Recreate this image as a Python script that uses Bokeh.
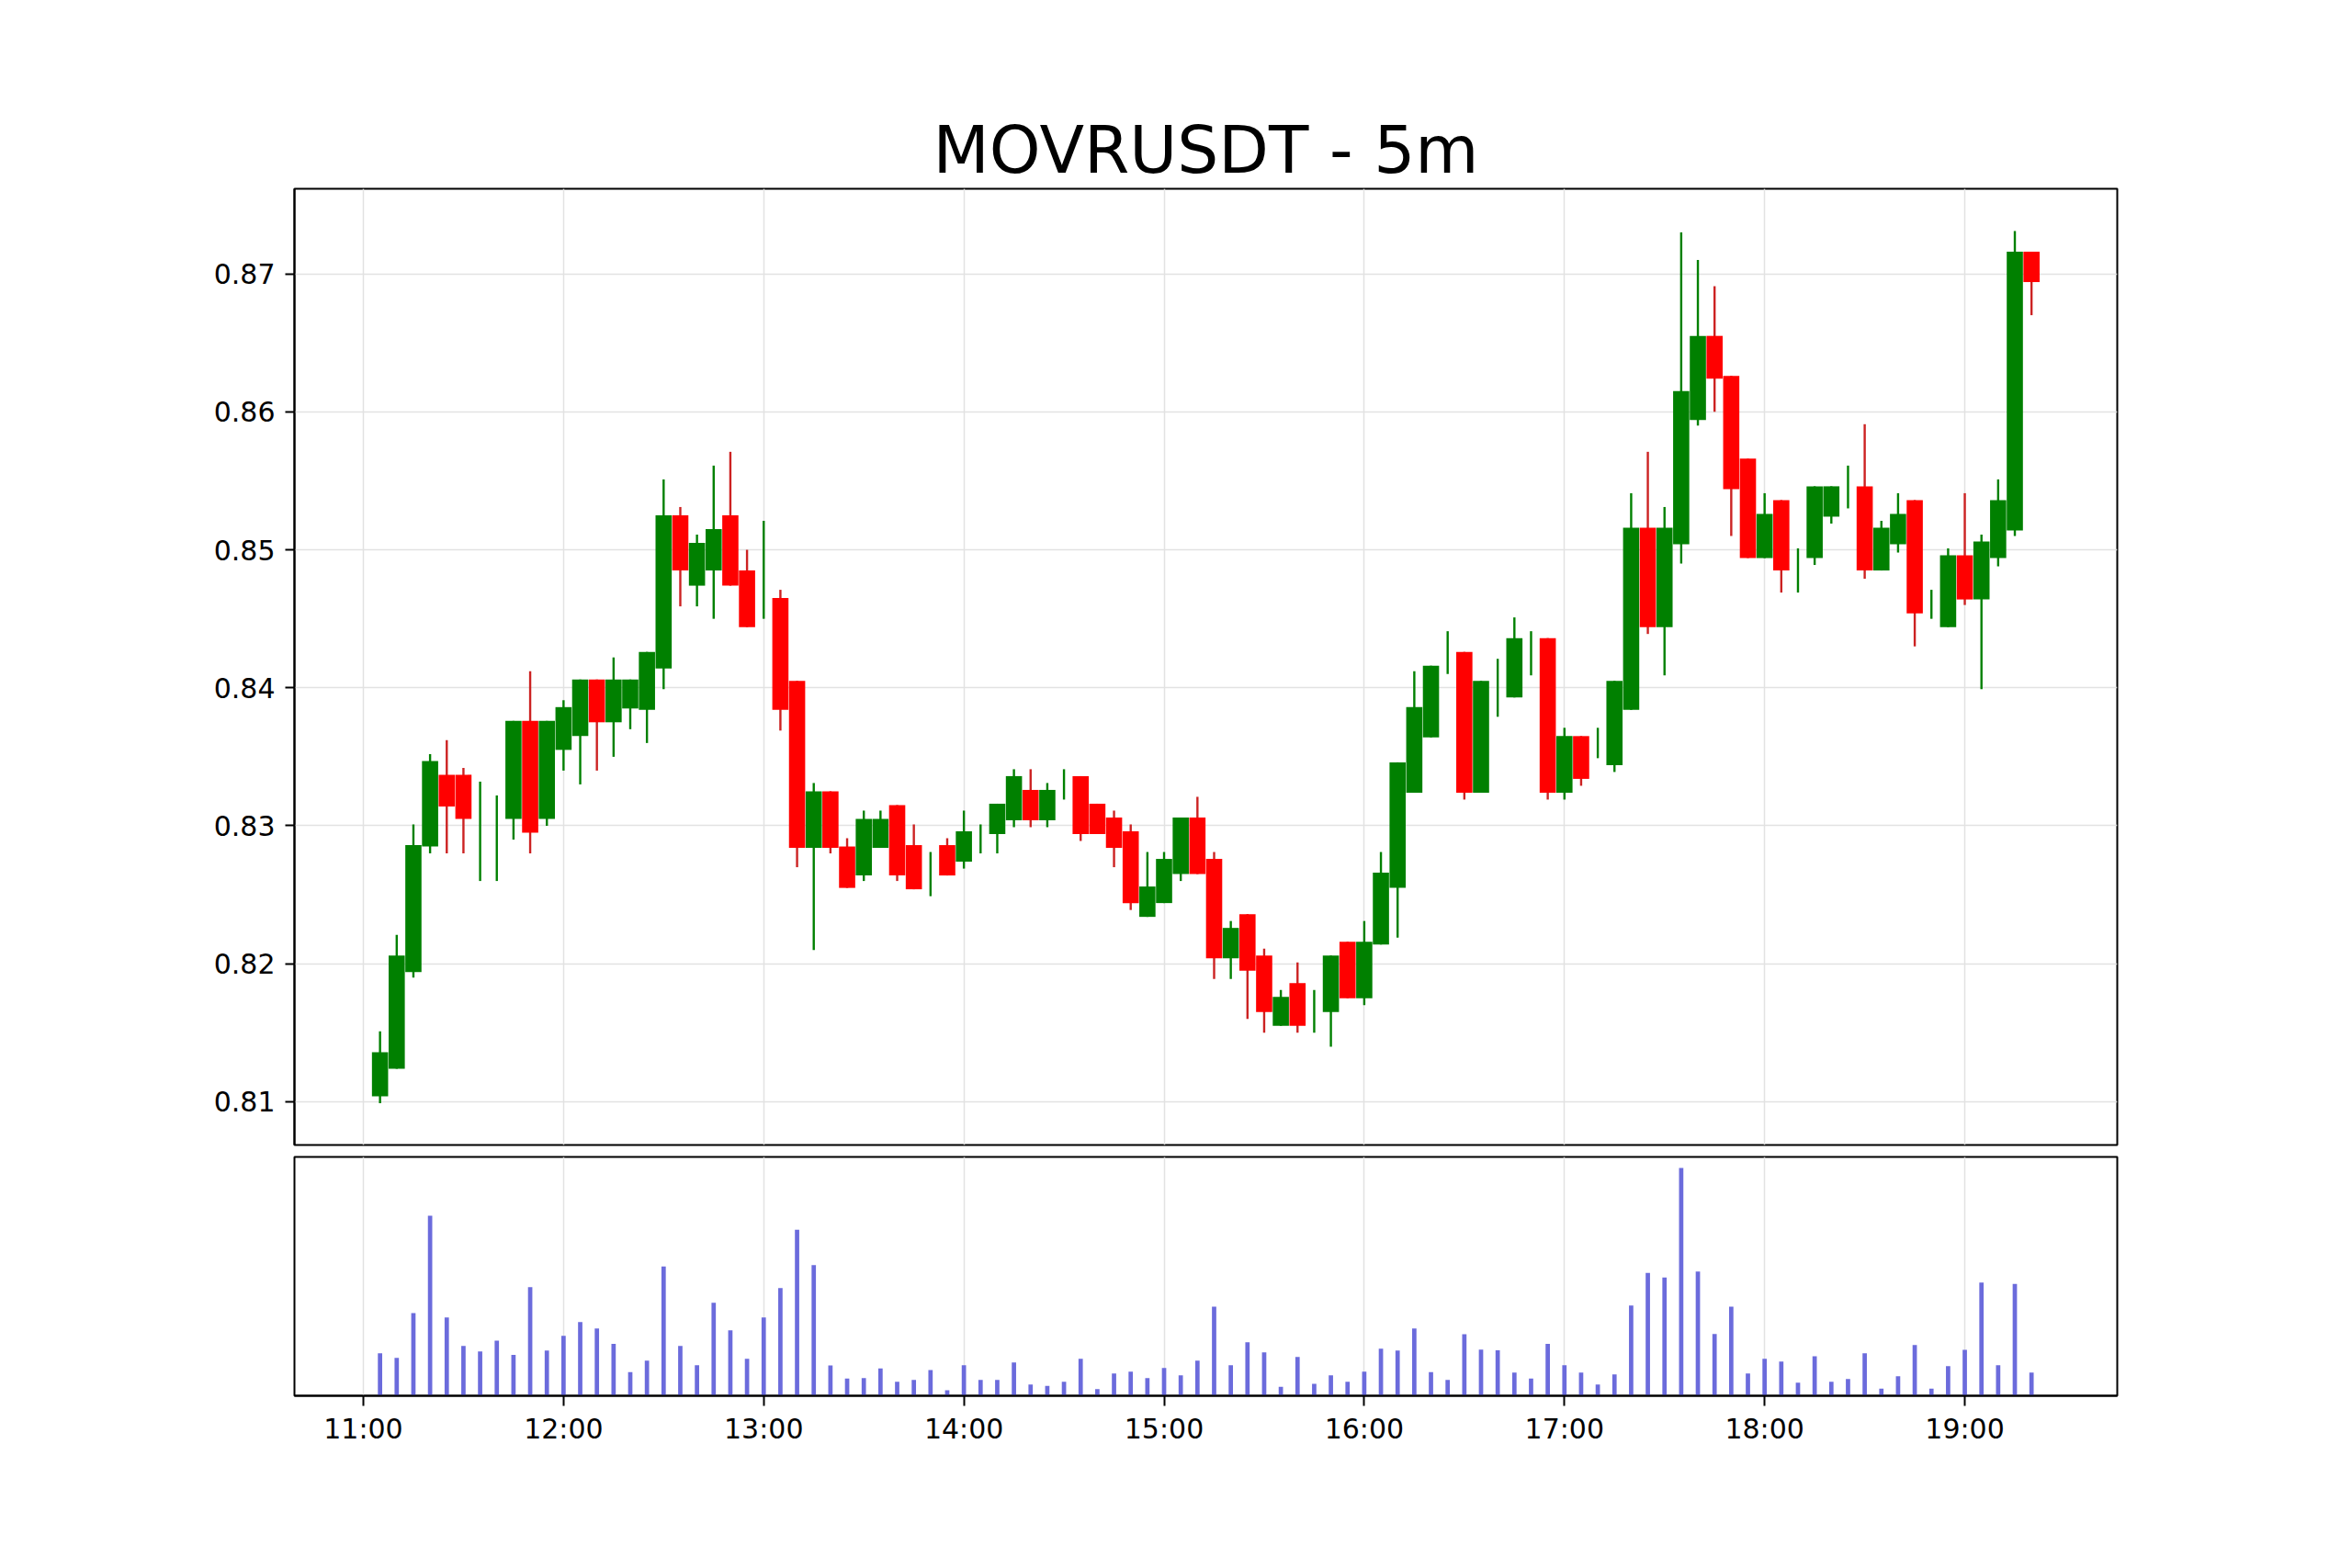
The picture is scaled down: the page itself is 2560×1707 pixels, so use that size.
import pandas as pd
from bokeh.plotting import figure
from bokeh.layouts import column
from bokeh.models import (ColumnDataSource, Range1d, FixedTicker, Grid,
                          PrintfTickFormatter, DatetimeTickFormatter)
from bokeh.embed import file_html
from bokeh.resources import INLINE

# ---------------- data ----------------
title_text = "MOVRUSDT - 5m"
session_date = "2022-01-01"
first_bar = "11:05"
bar_minutes = 5
hour_labels = ["11:00", "12:00", "13:00", "14:00", "15:00", "16:00", "17:00", "18:00", "19:00"]
price_ticks = [0.81, 0.82, 0.83, 0.84, 0.85, 0.86, 0.87]

opens = [0.8104, 0.8124, 0.8194, 0.8285, 0.8337, 0.8337, 0.8305, 0.8305, 0.8305, 0.8376,
         0.8305, 0.8355, 0.8365, 0.8406, 0.8375, 0.8385, 0.8384, 0.8414, 0.8525, 0.8474,
         0.8485, 0.8525, 0.8485, 0.8485, 0.8465, 0.8405, 0.8284, 0.8325, 0.8285, 0.8264,
         0.8284, 0.8315, 0.8286, 0.8264, 0.8286, 0.8274, 0.8296, 0.8294, 0.8304, 0.8326,
         0.8304, 0.8326, 0.8336, 0.8316, 0.8306, 0.8296, 0.8234, 0.8244, 0.8265, 0.8306,
         0.8276, 0.8204, 0.8236, 0.8206, 0.8155, 0.8186, 0.8165, 0.8165, 0.8216, 0.8175,
         0.8214, 0.8255, 0.8324, 0.8364, 0.8426, 0.8426, 0.8324, 0.8405, 0.8393, 0.8436,
         0.8436, 0.8324, 0.8365, 0.8355, 0.8344, 0.8384, 0.8516, 0.8444, 0.8504, 0.8594,
         0.8655, 0.8626, 0.8566, 0.8494, 0.8536, 0.8494, 0.8494, 0.8524, 0.8546, 0.8546,
         0.8485, 0.8504, 0.8536, 0.8454, 0.8444, 0.8496, 0.8464, 0.8494, 0.8514, 0.8716]
highs = [0.8151, 0.8221, 0.8301, 0.8352, 0.8362, 0.8342, 0.8332, 0.8322, 0.8376, 0.8412,
         0.8376, 0.8391, 0.8406, 0.8406, 0.8422, 0.8406, 0.8426, 0.8551, 0.8531, 0.8511,
         0.8561, 0.8571, 0.8500, 0.8521, 0.8471, 0.8405, 0.8331, 0.8325, 0.8291, 0.8311,
         0.8311, 0.8315, 0.8301, 0.8281, 0.8291, 0.8311, 0.8301, 0.8316, 0.8341, 0.8341,
         0.8331, 0.8341, 0.8336, 0.8316, 0.8311, 0.8301, 0.8281, 0.8281, 0.8306, 0.8321,
         0.8281, 0.8231, 0.8236, 0.8211, 0.8181, 0.8201, 0.8181, 0.8206, 0.8216, 0.8231,
         0.8281, 0.8346, 0.8412, 0.8416, 0.8441, 0.8426, 0.8405, 0.8421, 0.8451, 0.8441,
         0.8436, 0.8371, 0.8365, 0.8371, 0.8405, 0.8541, 0.8571, 0.8531, 0.8730, 0.8710,
         0.8691, 0.8626, 0.8566, 0.8541, 0.8536, 0.8501, 0.8546, 0.8546, 0.8561, 0.8591,
         0.8521, 0.8541, 0.8536, 0.8471, 0.8501, 0.8541, 0.8511, 0.8551, 0.8731, 0.8716]
lows = [0.8099, 0.8124, 0.8190, 0.8280, 0.8280, 0.8280, 0.8260, 0.8260, 0.8290, 0.8280,
        0.8300, 0.8340, 0.8330, 0.8340, 0.8350, 0.8370, 0.8360, 0.8399, 0.8459, 0.8459,
        0.8450, 0.8474, 0.8444, 0.8450, 0.8369, 0.8270, 0.8210, 0.8280, 0.8255, 0.8260,
        0.8284, 0.8260, 0.8254, 0.8249, 0.8264, 0.8269, 0.8280, 0.8280, 0.8299, 0.8299,
        0.8299, 0.8319, 0.8289, 0.8294, 0.8270, 0.8239, 0.8234, 0.8244, 0.8260, 0.8265,
        0.8189, 0.8189, 0.8160, 0.8150, 0.8155, 0.8150, 0.8150, 0.8140, 0.8175, 0.8170,
        0.8214, 0.8219, 0.8324, 0.8364, 0.8410, 0.8319, 0.8324, 0.8379, 0.8393, 0.8409,
        0.8319, 0.8319, 0.8329, 0.8349, 0.8339, 0.8384, 0.8439, 0.8409, 0.8490, 0.8590,
        0.8600, 0.8510, 0.8494, 0.8494, 0.8469, 0.8469, 0.8489, 0.8519, 0.8530, 0.8479,
        0.8485, 0.8498, 0.8430, 0.8450, 0.8444, 0.8460, 0.8399, 0.8488, 0.8510, 0.8670]
closes = [0.8136, 0.8206, 0.8286, 0.8347, 0.8314, 0.8305, 0.8305, 0.8305, 0.8376, 0.8295,
          0.8376, 0.8386, 0.8406, 0.8375, 0.8406, 0.8406, 0.8426, 0.8525, 0.8485, 0.8505,
          0.8515, 0.8474, 0.8444, 0.8485, 0.8384, 0.8284, 0.8325, 0.8284, 0.8255, 0.8305,
          0.8305, 0.8264, 0.8254, 0.8264, 0.8264, 0.8296, 0.8296, 0.8316, 0.8336, 0.8304,
          0.8326, 0.8326, 0.8294, 0.8294, 0.8284, 0.8244, 0.8256, 0.8276, 0.8306, 0.8265,
          0.8204, 0.8226, 0.8195, 0.8165, 0.8176, 0.8155, 0.8165, 0.8206, 0.8175, 0.8216,
          0.8266, 0.8346, 0.8386, 0.8416, 0.8426, 0.8324, 0.8405, 0.8405, 0.8436, 0.8436,
          0.8324, 0.8365, 0.8334, 0.8355, 0.8405, 0.8516, 0.8444, 0.8516, 0.8615, 0.8655,
          0.8624, 0.8544, 0.8494, 0.8526, 0.8485, 0.8494, 0.8546, 0.8546, 0.8546, 0.8485,
          0.8516, 0.8526, 0.8454, 0.8454, 0.8496, 0.8464, 0.8506, 0.8536, 0.8716, 0.8694]
volumes = [139, 124, 270, 589, 256, 163, 145, 180, 134, 355,
           148, 196, 241, 220, 170, 77, 115, 423, 163, 100,
           304, 214, 121, 256, 352, 543, 427, 99, 56, 58,
           89, 46, 52, 84, 18, 100, 52, 52, 109, 37,
           32, 46, 121, 22, 73, 79, 58, 91, 67, 115,
           291, 100, 175, 142, 29, 127, 39, 67, 46, 79,
           154, 148, 220, 77, 52, 201, 151, 149, 76, 56,
           170, 100, 76, 37, 70, 295, 402, 387, 745, 406,
           202, 291, 73, 121, 112, 43, 129, 46, 55, 139,
           23, 64, 166, 23, 97, 150, 370, 100, 366, 76]

# ---------------- styling ----------------
UP, DOWN = "#008000", "#ff0000"
UP_WICK, DOWN_WICK = "#008000", "#cc2222"
VOL_COLOR = "#6b6bdc"
GRID_COLOR = "#e2e2e2"
FONT = "DejaVu Sans"

times = pd.date_range(f"{session_date} {first_bar}", periods=len(opens), freq=f"{bar_minutes}min")
up = [c >= o for o, c in zip(opens, closes)]
src = ColumnDataSource(dict(
    time=times, open=opens, high=highs, low=lows, close=closes, volume=volumes,
    top=[max(o, c) for o, c in zip(opens, closes)],
    bottom=[min(o, c) for o, c in zip(opens, closes)],
    color=[UP if u else DOWN for u in up],
    wick=[UP_WICK if u else DOWN_WICK for u in up],
))

MIN = 60 * 1000
base = pd.Timestamp(f"{session_date} {hour_labels[0]}")
base_ms = base.value // 10**6
hour_ticks = [pd.Timestamp(f"{session_date} {h}").value // 10**6 for h in hour_labels]
x_range = Range1d(base_ms - 20.65 * MIN, base_ms + 525.7 * MIN)

FRAME_W = 1984
LEFT, RIGHT = 320, 240

# ---------------- price panel ----------------
p1 = figure(x_range=x_range, y_range=Range1d(0.80687, 0.87616),
            x_axis_location=None, frame_width=FRAME_W, frame_height=1041,
            min_border_left=LEFT, min_border_right=RIGHT,
            min_border_top=205, min_border_bottom=6,
            output_backend="svg", toolbar_location=None, title=title_text)
p1.background_fill_color = "white"
p1.border_fill_color = "white"
p1.outline_line_color = "black"
p1.outline_line_width = 2
p1.outline_line_alpha = 1.0

p1.title.text_font = FONT
p1.title.text_font_size = "71px"
p1.title.text_font_style = "normal"
p1.title.text_color = "black"
p1.title.align = "center"
p1.title.standoff = 2

p1.yaxis.ticker = FixedTicker(ticks=price_ticks)
p1.yaxis.formatter = PrintfTickFormatter(format="%.2f")
p1.yaxis.major_label_text_font = FONT
p1.yaxis.major_label_text_font_size = "30px"
p1.yaxis.major_label_text_color = "black"
p1.yaxis.major_label_standoff = 11
p1.yaxis.major_tick_out = 10
p1.yaxis.major_tick_in = 0
p1.yaxis.major_tick_line_width = 2
p1.yaxis.major_tick_line_color = "black"
p1.yaxis.minor_tick_line_color = None
p1.yaxis.axis_line_color = "black"
p1.yaxis.axis_line_width = 2

for g in p1.grid:
    g.visible = False
p1.add_layout(Grid(dimension=1, ticker=FixedTicker(ticks=price_ticks),
                   grid_line_color=GRID_COLOR, grid_line_width=1.5))
p1.add_layout(Grid(dimension=0, ticker=FixedTicker(ticks=hour_ticks),
                   grid_line_color=GRID_COLOR, grid_line_width=1.5))

body_w = bar_minutes * MIN * 0.97
p1.segment(x0="time", y0="low", x1="time", y1="high", source=src,
           line_color="wick", line_width=2.4)
p1.vbar(x="time", width=body_w, top="top", bottom="bottom", source=src,
        fill_color="color", line_color=None)

# ---------------- volume panel ----------------
p2 = figure(x_range=x_range, y_range=Range1d(0, 781), x_axis_type="datetime",
            y_axis_location=None, frame_width=FRAME_W, frame_height=260,
            min_border_left=LEFT, min_border_right=RIGHT,
            min_border_top=7, min_border_bottom=150,
            output_backend="svg", toolbar_location=None)
p2.background_fill_color = "white"
p2.border_fill_color = "white"
p2.outline_line_color = "black"
p2.outline_line_width = 2
p2.outline_line_alpha = 1.0

hour_ticker = FixedTicker(ticks=hour_ticks)
p2.xaxis.ticker = hour_ticker
fmt = "%H:%M"
p2.xaxis.formatter = DatetimeTickFormatter(
    microseconds=fmt, milliseconds=fmt, seconds=fmt, minsec=fmt, minutes=fmt,
    hourmin=fmt, hours=fmt, days=fmt, months=fmt, years=fmt)
p2.xaxis.major_label_text_font = FONT
p2.xaxis.major_label_text_font_size = "30px"
p2.xaxis.major_label_text_color = "black"
p2.xaxis.major_label_standoff = 7
p2.xaxis.major_tick_out = 11
p2.xaxis.major_tick_in = 0
p2.xaxis.major_tick_line_width = 2
p2.xaxis.major_tick_line_color = "black"
p2.xaxis.minor_tick_line_color = None
p2.xaxis.axis_line_color = "black"
p2.xaxis.axis_line_width = 2

for g in p2.grid:
    g.visible = False
p2.add_layout(Grid(dimension=0, ticker=hour_ticker,
                   grid_line_color=GRID_COLOR, grid_line_width=1.5))

p2.vbar(x="time", width=bar_minutes * MIN * 0.26, top="volume", bottom=0,
        source=src, fill_color=VOL_COLOR, line_color=None)

layout = column(p1, p2, spacing=0)
open("out.html", "w").write(file_html(layout, INLINE, title_text))
